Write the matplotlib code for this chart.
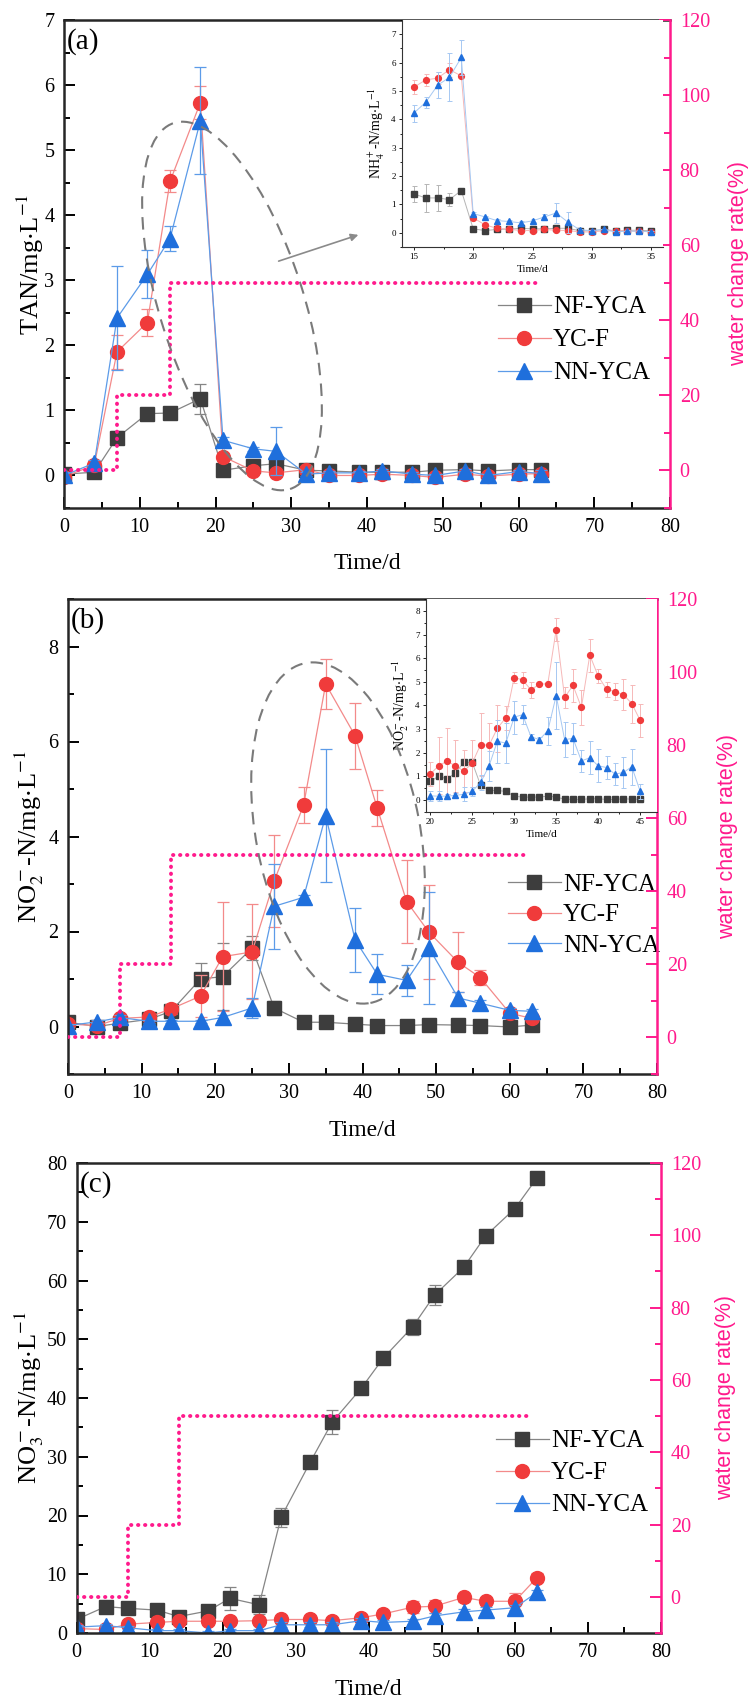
import numpy as np
import matplotlib
matplotlib.use("Agg")
import matplotlib.pyplot as plt
from matplotlib.patches import Ellipse
from matplotlib.ticker import MultipleLocator

plt.rcParams['font.family'] = ['Liberation Serif', 'DejaVu Serif']
plt.rcParams['mathtext.fontset'] = 'stix'

# sampling days (main panels)
days = [0, 4, 7, 11, 14, 18, 21, 25, 28, 32, 35, 39, 42, 46, 49, 53, 56, 60, 63]
# water change rate (%), step line
wc_days = [0, 7, 14, 62.5]
wc_rate = [0, 20, 50, 50]
groups = ['NF-YCA', 'YC-F', 'NN-YCA']

# (a) TAN
tan_nf = [0.02, 0.05, 0.58, 0.95, 0.96, 1.18, 0.08, 0.15, 0.18, 0.08, 0.07, 0.05, 0.05, 0.05, 0.08, 0.09, 0.07, 0.09, 0.09]
tan_nf_err = [0.03, 0.03, 0.1, 0.04, 0.06, 0.23, 0.03, 0.03, 0.05, 0.02, 0.02, 0.02, 0.02, 0.02, 0.02, 0.02, 0.02, 0.02, 0.02]
tan_yc = [-0.02, 0.16, 1.9, 2.35, 4.52, 5.73, 0.29, 0.07, 0.04, 0.09, 0.0, 0.0, 0.02, 0.0, -0.03, 0.02, -0.01, 0.02, 0.03]
tan_yc_err = [0.03, 0.05, 0.26, 0.21, 0.17, 0.25, 0.05, 0.03, 0.03, 0.02, 0.02, 0.02, 0.02, 0.02, 0.02, 0.02, 0.02, 0.02, 0.02]
tan_nn = [0.0, 0.19, 2.42, 3.09, 3.64, 5.45, 0.54, 0.41, 0.37, 0.02, 0.04, 0.04, 0.07, 0.02, 0.0, 0.07, 0.0, 0.06, 0.03]
tan_nn_err = [0.05, 0.05, 0.8, 0.37, 0.19, 0.82, 0.05, 0.03, 0.37, 0.03, 0.03, 0.03, 0.03, 0.03, 0.03, 0.03, 0.03, 0.03, 0.05]

# (a) inset NH4+-N, days 15-35
nh4_days = list(range(15, 36))
nh4_nf = [1.37, 1.23, 1.23, 1.17, 1.49, 0.14, 0.08, 0.12, 0.13, 0.16, 0.14, 0.14, 0.16, 0.16, 0.07, 0.07, 0.12, 0.07, 0.09, 0.09, 0.07]
nh4_nf_err = [0.27, 0.5, 0.45, 0.23, 0.1, 0.05, 0.03, 0.03, 0.03, 0.03, 0.03, 0.03, 0.03, 0.03, 0.03, 0.03, 0.03, 0.03, 0.03, 0.03, 0.03]
nh4_yc = [5.13, 5.39, 5.45, 5.75, 5.53, 0.53, 0.28, 0.16, 0.13, 0.08, 0.08, 0.12, 0.09, 0.08, 0.03, 0.03, 0.07, 0.08, 0.06, 0.06, 0.03]
nh4_yc_err = [0.25, 0.2, 0.2, 0.25, 0.05, 0.08, 0.05, 0.03, 0.03, 0.03, 0.03, 0.03, 0.03, 0.03, 0.03, 0.03, 0.03, 0.03, 0.03, 0.03, 0.03]
nh4_nn = [4.22, 4.6, 5.2, 5.48, 6.18, 0.68, 0.56, 0.43, 0.4, 0.35, 0.42, 0.56, 0.7, 0.37, 0.1, 0.08, 0.12, 0.03, 0.06, 0.06, 0.04]
nh4_nn_err = [0.3, 0.2, 0.45, 0.84, 0.62, 0.05, 0.05, 0.05, 0.05, 0.05, 0.05, 0.1, 0.35, 0.37, 0.03, 0.03, 0.03, 0.03, 0.03, 0.03, 0.03]

# (b) NO2--N
no2_nf = [0.09, 0.0, 0.07, 0.15, 0.32, 1.0, 1.05, 1.65, 0.39, 0.09, 0.09, 0.05, 0.02, 0.02, 0.04, 0.03, 0.02, -0.01, 0.03]
no2_nf_err = [0.05, 0.03, 0.03, 0.03, 0.1, 0.33, 0.7, 0.25, 0.15, 0.03, 0.03, 0.03, 0.03, 0.03, 0.03, 0.03, 0.03, 0.03, 0.03]
no2_yc = [0.05, 0.02, 0.17, 0.2, 0.37, 0.64, 1.47, 1.57, 3.06, 4.66, 7.21, 6.12, 4.6, 2.63, 1.99, 1.35, 1.03, 0.28, 0.17]
no2_yc_err = [0.03, 0.03, 0.05, 0.05, 0.1, 0.45, 1.15, 1.0, 0.97, 0.38, 0.52, 0.7, 0.38, 0.87, 0.98, 0.63, 0.15, 0.05, 0.05]
no2_nn = [0.02, 0.1, 0.19, 0.11, 0.11, 0.11, 0.19, 0.39, 2.53, 2.72, 4.44, 1.82, 1.1, 0.97, 1.66, 0.6, 0.49, 0.34, 0.32]
no2_nn_err = [0.03, 0.03, 0.05, 0.03, 0.03, 0.03, 0.05, 0.22, 0.9, 0.05, 1.4, 0.68, 0.42, 0.33, 1.18, 0.13, 0.07, 0.05, 0.05]

# (b) inset, days 20-45
no2i_days = list(range(20, 46))
no2i_nf = [0.79, 1.01, 0.9, 1.15, 1.6, 1.6, 0.63, 0.41, 0.41, 0.37, 0.17, 0.13, 0.13, 0.13, 0.17, 0.13, 0.04, 0.04, 0.03, 0.06, 0.06, 0.03, 0.03, 0.06, 0.04, 0.04]
no2i_nf_err = [0.1, 0.1, 0.1, 0.1, 0.1, 0.1, 0.1, 0.05, 0.05, 0.05, 0.05, 0.03, 0.03, 0.03, 0.03, 0.03, 0.03, 0.03, 0.03, 0.03, 0.03, 0.03, 0.03, 0.03, 0.03, 0.03]
no2i_yc = [1.1, 1.45, 1.65, 1.45, 1.23, 1.56, 2.35, 2.32, 3.04, 3.48, 5.18, 5.08, 4.66, 4.9, 4.92, 7.21, 4.34, 4.85, 3.92, 6.13, 5.24, 4.68, 4.59, 4.46, 4.08, 3.37]
no2i_yc_err = [0.5, 1.2, 1.4, 1.1, 0.9, 1.0, 1.35, 0.95, 1.0, 0.5, 0.25, 0.35, 0.35, 0.05, 0.05, 0.5, 0.45, 0.7, 0.75, 0.7, 0.3, 0.3, 0.35, 0.65, 0.8, 0.7]
no2i_nn = [0.18, 0.17, 0.17, 0.2, 0.25, 0.37, 0.75, 1.44, 2.49, 2.41, 3.51, 3.61, 2.68, 2.56, 2.93, 4.42, 2.56, 2.61, 1.66, 1.79, 1.45, 1.38, 1.1, 1.17, 1.41, 0.37]
no2i_nn_err = [0.2, 0.2, 0.1, 0.1, 0.3, 0.2, 0.3, 0.65, 0.9, 0.85, 0.7, 0.4, 0.1, 0.1, 0.6, 1.4, 0.75, 0.65, 0.45, 0.7, 0.7, 0.5, 0.45, 0.65, 0.75, 0.3]

# (c) NO3--N
no3_nf = [2.3, 4.5, 4.2, 3.9, 2.8, 3.75, 5.9, 4.8, 19.7, 29.1, 35.9, 41.7, 46.8, 52.1, 57.5, 62.25, 67.6, 72.25, 77.4]
no3_nf_err = [1.0, 0.9, 0.4, 0.4, 0.4, 0.5, 2.0, 1.6, 1.6, 0.4, 2.1, 0.9, 0.4, 1.3, 1.7, 0.8, 0.5, 0.5, 0.5]
no3_yc = [0.75, 0.6, 1.5, 1.8, 2.0, 2.0, 2.0, 2.1, 2.3, 2.3, 2.1, 2.6, 3.25, 4.4, 4.55, 6.06, 5.4, 5.4, 9.4]
no3_yc_err = [0.3, 0.3, 0.4, 0.4, 0.5, 0.4, 0.4, 0.4, 0.4, 0.4, 0.4, 0.5, 0.6, 1.0, 1.1, 0.8, 0.5, 1.4, 0.8]
no3_nn = [1.0, 1.25, 0.9, 0.4, 0.4, 0.0, 0.4, 0.4, 1.4, 1.4, 1.4, 2.1, 1.8, 2.0, 2.9, 3.6, 3.9, 4.3, 6.9]
no3_nn_err = [0.3, 0.3, 0.3, 0.3, 0.3, 0.3, 0.3, 0.3, 0.4, 0.4, 0.4, 0.5, 0.4, 0.4, 0.5, 0.5, 0.5, 0.5, 0.5]

PINK = '#ff1a8c'
styles = {
    'NF-YCA': dict(marker='s', mc='#3d3d3d', lc='#858585', ilc='#b5b5b5', k=1.0),
    'YC-F': dict(marker='o', mc='#f03b3b', lc='#f38a8a', ilc='#f6b8b8', k=1.0),
    'NN-YCA': dict(marker='^', mc='#1f6fdc', lc='#5c9be8', ilc='#a6c8f2', k=1.1),
}

W, H = 756, 1705
fig = plt.figure(figsize=(W / 100, H / 100), dpi=100)


def box(l, t, r, b):
    return [l / W, (H - b) / H, (r - l) / W, (b - t) / H]


def draw_series(ax, x, ys, errs, ms, lw, cs, inset=False):
    for name, y, e in zip(groups, ys, errs):
        s = styles[name]
        lc = s['ilc'] if inset else s['lc']
        ax.errorbar(x, y, yerr=e, fmt='none', ecolor=lc, elinewidth=lw,
                    capsize=cs, capthick=lw)
        ax.plot(x, y, color=lc, lw=lw, marker=s['marker'], ms=ms * s['k'],
                mfc=s['mc'], mec=s['mc'], label=name)


def main_panel(px, ylim, ystep, ylabel, tag, ys, errs, leg_px, leg_sp, xlab_top, rlab_x):
    l, t, r, b = px
    ax = fig.add_axes(box(*px))
    draw_series(ax, days, ys, errs, 10, 0.9, 4.5)
    ax.set_xlim(0, 80)
    ax.set_ylim(*ylim)
    ax.xaxis.set_major_locator(MultipleLocator(10))
    ax.xaxis.set_minor_locator(MultipleLocator(5))
    ax.yaxis.set_major_locator(MultipleLocator(ystep))
    ax.yaxis.set_minor_locator(MultipleLocator(ystep / 2))
    ax.tick_params(which='both', direction='in', width=1.4, top=False, right=False,
                   labelsize=14.5, pad=7)
    ax.tick_params(which='major', length=8)
    ax.tick_params(which='minor', length=4.5)
    for sp in ax.spines.values():
        sp.set_linewidth(1.8)
        sp.set_color('#262626')
    ax.spines['right'].set_visible(False)
    ax.set_ylabel(ylabel, fontsize=19)
    ax.yaxis.set_label_coords((46 - l) / (r - l), 0.5)
    ax.set_xlabel('Time/d', fontsize=17)
    ax.xaxis.set_label_coords(0.5, (b - xlab_top) / (b - t))
    ax.text(3 / (r - l), 1 - 8 / (b - t), tag, transform=ax.transAxes,
            ha='left', va='top', fontsize=21)
    ax.legend(loc='center left',
              bbox_to_anchor=((leg_px[0] - l) / (r - l), (b - leg_px[1]) / (b - t)),
              frameon=False, fontsize=18, handlelength=2.1, handletextpad=0.1,
              labelspacing=leg_sp, borderpad=0, borderaxespad=0)

    ax2 = ax.twinx()
    ax2.plot(wc_days, wc_rate, drawstyle='steps-post', color=PINK, lw=2.8,
             ls=(0, (0.1, 1.7)), dash_capstyle='round')
    ax2.set_ylim(-10, 120)
    ax2.yaxis.set_major_locator(MultipleLocator(20))
    ax2.yaxis.set_minor_locator(MultipleLocator(10))
    ax2.tick_params(which='both', direction='in', width=1.4, colors=PINK,
                    labelsize=14.5, pad=7)
    ax2.tick_params(which='major', length=8)
    ax2.tick_params(which='minor', length=4.5)
    for k in ['left', 'top', 'bottom']:
        ax2.spines[k].set_visible(False)
    ax2.spines['right'].set_color(PINK)
    ax2.spines['right'].set_linewidth(1.8)
    ax2.set_ylabel('water change rate(%)', color=PINK, fontsize=15.5,
                   family=['Liberation Sans', 'DejaVu Sans'])
    ax2.yaxis.set_label_coords((rlab_x - l) / (r - l), 0.5)
    return ax


def inset_panel(px, x, ys, errs, xlim, ylim, xstep, ylabel):
    ia = fig.add_axes(box(*px))
    ia.set_facecolor('white')
    draw_series(ia, x, ys, errs, 4.2, 0.7, 1.8, inset=True)
    ia.set_xlim(*xlim)
    ia.set_ylim(*ylim)
    ia.xaxis.set_major_locator(MultipleLocator(xstep))
    ia.xaxis.set_minor_locator(MultipleLocator(xstep / 2))
    ia.yaxis.set_major_locator(MultipleLocator(1))
    ia.yaxis.set_minor_locator(MultipleLocator(0.5))
    ia.tick_params(which='both', direction='out', width=0.6, labelsize=6.5, pad=2)
    ia.tick_params(which='major', length=2.5)
    ia.tick_params(which='minor', length=1.5)
    ia.spines['top'].set_visible(False)
    ia.spines['right'].set_visible(False)
    for k in ['left', 'bottom']:
        ia.spines[k].set_linewidth(0.8)
        ia.spines[k].set_color('#333333')
    ia.set_xlabel('Time/d', fontsize=8, labelpad=3)
    ia.set_ylabel(ylabel, fontsize=10, labelpad=3)
    return ia


ax_a = main_panel((64, 20, 670, 508), (-0.5, 7), 1, r'TAN/mg$\cdot$L$^{-1}$', '(a)',
                  [tan_nf, tan_yc, tan_nn], [tan_nf_err, tan_yc_err, tan_nn_err],
                  (498, 340), 0.42, 553, 728)
ax_b = main_panel((68, 599, 657, 1074), (-1, 9), 2, r'NO$_2^-$-N/mg$\cdot$L$^{-1}$', '(b)',
                  [no2_nf, no2_yc, no2_nn], [no2_nf_err, no2_yc_err, no2_nn_err],
                  (508, 915), 0.32, 1120, 717)
ax_c = main_panel((76.5, 1163, 661, 1633), (0, 80), 10, r'NO$_3^-$-N/mg$\cdot$L$^{-1}$', '(c)',
                  [no3_nf, no3_yc, no3_nn], [no3_nf_err, no3_yc_err, no3_nn_err],
                  (496, 1473), 0.38, 1679, 715)

inset_panel((402, 20, 663, 247), nh4_days, [nh4_nf, nh4_yc, nh4_nn],
            [nh4_nf_err, nh4_yc_err, nh4_nn_err], (14, 36), (-0.5, 7.5), 5,
            r'NH$_4^+$-N/mg$\cdot$L$^{-1}$')
inset_panel((426, 599, 657, 812), no2i_days, [no2i_nf, no2i_yc, no2i_nn],
            [no2i_nf_err, no2i_yc_err, no2i_nn_err], (19.5, 47), (-0.5, 8.5), 5,
            r'NO$_2^-$-N/mg$\cdot$L$^{-1}$')

# dashed ellipses marking the zoomed region, and arrows to the insets
for cx, cy, w, h, ang in [(232, 306, 144, 384, 17.6), (338, 833, 164, 346, 10.8)]:
    fig.add_artist(Ellipse((cx / 100, (H - cy) / 100), w / 100, h / 100, angle=ang,
                           transform=fig.dpi_scale_trans, fill=False,
                           ec='#7a7a7a', lw=1.5, ls=(0, (6, 4))))
for (x0, y0), (x1, y1) in [((276, 262), (361, 234)), ((415, 884), (434, 832))]:
    ax_a.annotate('', xy=(x1, H - y1), xytext=(x0, H - y0), xycoords='figure pixels',
                  textcoords='figure pixels',
                  arrowprops=dict(arrowstyle='-|>', color='#8a8a8a', lw=1.2,
                                  mutation_scale=11))

fig.savefig('out.png', dpi=100)
